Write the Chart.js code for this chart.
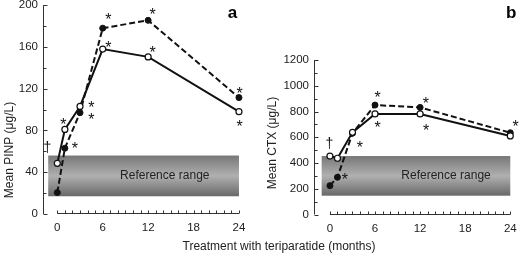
<!DOCTYPE html>
<html>
<head>
<meta charset="utf-8">
<script src="https://cdn.jsdelivr.net/npm/chart.js@4"></script>
<style>
  html, body { margin: 0; padding: 0; background: #fff; }
  #wrap { position: relative; width: 520px; height: 254px; overflow: hidden; }
  .panel { position: absolute; top: 0; width: 260px; height: 254px; }
  #xTitle {
    position: absolute; left: 279px; top: 239px; transform: translateX(-50%);
    font: 12px 'Liberation Sans', Arial, sans-serif; color: #222;
    white-space: nowrap; line-height: 14px;
  }
</style>
</head>
<body>
<div id="wrap">
  <div class="panel" style="left:0"><canvas id="chartA" width="260" height="254"></canvas></div>
  <div class="panel" style="left:260px"><canvas id="chartB" width="260" height="254"></canvas></div>
  <div id="xTitle">Treatment with teriparatide (months)</div>
</div>
<script>
// months of treatment
const months = [0, 1, 3, 6, 12, 24];
const monthTicks = [0, 6, 12, 18, 24];

// panel a - PINP (ug/L)
const pinpOpen = [48.5, 81, 103, 158, 150.5, 98];
const pinpFilled = [20.5, 63, 97, 178, 185.5, 111.5];
const pinpTicks = [0, 40, 80, 120, 160, 200];
const pinpRefRange = [17, 56];

// panel b - CTX (ug/L)
const ctxOpen = [454, 437, 638, 781, 781, 610];
const ctxFilled = [224, 289, 631, 850, 832, 635];
const ctxTicks = [0, 200, 400, 600, 800, 1000, 1200];
const ctxRefRange = [146, 454];

// significance marks next to points (ds 0 = open circles, ds 1 = filled)
const marksA = [
  { ds: 0, i: 0, t: '†', dx: -10, dy: -16 },
  { ds: 0, i: 1, t: '*', dx: -1.5, dy: -8.5 },
  { ds: 1, i: 1, t: '*', dx: 10, dy: -3 },
  { ds: 0, i: 2, t: '*', dx: 11.4, dy: -2 },
  { ds: 1, i: 2, t: '*', dx: 11.4, dy: 3 },
  { ds: 1, i: 3, t: '*', dx: 5.7, dy: -12.3 },
  { ds: 0, i: 3, t: '*', dx: 5.7, dy: -5.3 },
  { ds: 1, i: 4, t: '*', dx: 4.4, dy: -9.3 },
  { ds: 0, i: 4, t: '*', dx: 4.4, dy: -7.4 },
  { ds: 1, i: 5, t: '*', dx: 0.7, dy: -7.3 },
  { ds: 0, i: 5, t: '*', dx: 0.7, dy: 11.3 }
];
const marksB = [
  { ds: 0, i: 0, t: '†', dx: -0.6, dy: -13.3 },
  { ds: 1, i: 1, t: '*', dx: 7.4, dy: -1.6 },
  { ds: 1, i: 2, t: '*', dx: 7.3, dy: 10.7 },
  { ds: 1, i: 3, t: '*', dx: 2.7, dy: -11 },
  { ds: 0, i: 3, t: '*', dx: 2.7, dy: 10 },
  { ds: 1, i: 4, t: '*', dx: 5.7, dy: -7.3 },
  { ds: 0, i: 4, t: '*', dx: 6, dy: 13.3 },
  { ds: 1, i: 5, t: '*', dx: 5.3, dy: -9.4 }
];

const FONT = "'Liberation Sans', Arial, Helvetica, sans-serif";
Chart.defaults.font.family = FONT;
Chart.defaults.color = '#222';

function centeredText(ctx, text, cx, cy) {
  const m = ctx.measureText(text);
  ctx.fillText(text, cx, cy + (m.actualBoundingBoxAscent - m.actualBoundingBoxDescent) / 2);
}

// band, axes, marks and titles
const panelDecor = {
  id: 'panelDecor',
  beforeDatasetsDraw(chart, args, o) {
    const { ctx, chartArea: ca, scales: { x, y } } = chart;
    const x0 = x.getPixelForValue(o.bandFrom);
    const x1 = x.getPixelForValue(24);
    const yTop = y.getPixelForValue(o.range[1]);
    const yBot = y.getPixelForValue(o.range[0]);
    ctx.save();
    const g = ctx.createLinearGradient(0, yTop, 0, yBot);
    g.addColorStop(0, '#777');
    g.addColorStop(0.5, '#b0b0b0');
    g.addColorStop(1, '#686868');
    ctx.fillStyle = g;
    ctx.fillRect(x0, yTop, x1 - x0, yBot - yTop);
    ctx.fillStyle = '#222';
    ctx.font = '12px ' + FONT;
    ctx.textAlign = 'center';
    ctx.textBaseline = 'alphabetic';
    centeredText(ctx, 'Reference range', x.getPixelForValue(o.labelAt), (yTop + yBot) / 2);

    // y axis with inward ticks
    ctx.strokeStyle = '#333';
    ctx.lineWidth = 1;
    const ax = Math.round(ca.left) + 0.5;
    ctx.beginPath();
    ctx.moveTo(ax, ca.top);
    ctx.lineTo(ax, ca.bottom);
    const yMax = o.yTicks[o.yTicks.length - 1];
    for (let v = 0; v <= yMax; v += o.yMinor) {
      const py = Math.round(y.getPixelForValue(v)) + 0.5;
      const len = o.yTicks.includes(v) ? 4 : 3;
      ctx.moveTo(ax, py);
      ctx.lineTo(ax + len, py);
    }
    // x axis from 0 to 24 with monthly ticks
    const by = Math.round(ca.bottom) - 0.5;
    ctx.moveTo(x.getPixelForValue(0), by);
    ctx.lineTo(x.getPixelForValue(24), by);
    for (let m = 0; m <= 24; m++) {
      const px = Math.round(x.getPixelForValue(m)) + 0.5;
      ctx.moveTo(px, by);
      ctx.lineTo(px, by - 3);
    }
    ctx.stroke();
    ctx.restore();
  },
  afterDatasetsDraw(chart, args, o) {
    const { ctx } = chart;
    ctx.save();
    ctx.fillStyle = '#111';
    ctx.textAlign = 'center';
    ctx.textBaseline = 'alphabetic';
    o.marks.forEach(mk => {
      ctx.font = (mk.t === '*' ? '16px ' : '14px ') + FONT;
      const pt = chart.getDatasetMeta(mk.ds).data[mk.i];
      centeredText(ctx, mk.t, pt.x + mk.dx, pt.y + mk.dy);
    });
    // y title
    ctx.fillStyle = '#222';
    ctx.font = '12px ' + FONT;
    ctx.save();
    ctx.translate(o.titlePos[0], o.titlePos[1]);
    ctx.rotate(-Math.PI / 2);
    centeredText(ctx, o.title, 0, 0);
    ctx.restore();
    // panel letter
    ctx.fillStyle = '#000';
    ctx.font = 'bold 17px ' + FONT;
    ctx.fillText(o.letter, o.letterPos[0], o.letterPos[1]);
    ctx.restore();
  }
};

function makeChart(id, open, filled, cfg) {
  const yTicks = cfg.decor.yTicks;
  return new Chart(document.getElementById(id), {
    type: 'line',
    data: {
      datasets: [
        {
          data: months.map((m, i) => ({ x: m, y: open[i] })),
          borderColor: '#111', borderWidth: 2,
          pointRadius: 3, pointBackgroundColor: '#fff',
          pointBorderColor: '#111', pointBorderWidth: 1.2,
          clip: false
        },
        {
          data: months.map((m, i) => ({ x: m, y: filled[i] })),
          borderColor: '#111', borderWidth: 2, borderDash: [6, 3],
          pointRadius: 3, pointBackgroundColor: '#111',
          pointBorderColor: '#111', pointBorderWidth: 1,
          clip: false
        }
      ]
    },
    options: {
      responsive: false,
      animation: false,
      devicePixelRatio: 1,
      layout: { padding: cfg.padding },
      elements: { line: { tension: 0 } },
      plugins: {
        legend: { display: false },
        tooltip: { enabled: false },
        panelDecor: cfg.decor
      },
      scales: {
        x: {
          type: 'linear', min: cfg.xMin, max: 24.6,
          grid: { display: false, drawTicks: false },
          border: { display: false },
          afterBuildTicks: s => { s.ticks = monthTicks.map(v => ({ value: v })); },
          afterFit: s => {
            s.height = cfg.xHeight;
            s.paddingLeft = 0; s.paddingRight = 0;
          },
          ticks: { padding: 7, color: '#222', font: { size: 11.5 }, maxRotation: 0, autoSkip: false,
                   callback: v => String(v) }
        },
        y: {
          min: 0, max: yTicks[yTicks.length - 1],
          grid: { display: false, drawTicks: false },
          border: { display: false },
          afterBuildTicks: s => { s.ticks = yTicks.map(v => ({ value: v })); },
          afterFit: s => {
            s.width = cfg.yWidth;
            s.paddingTop = 0; s.paddingBottom = 0;
          },
          ticks: { padding: 5, color: '#222', font: { size: 11.5 }, autoSkip: false,
                   callback: v => String(v) }
        }
      }
    },
    plugins: [panelDecor]
  });
}

makeChart('chartA', pinpOpen, pinpFilled, {
  padding: { left: 0, top: 5, right: 16.5, bottom: 0 },
  xMin: -1.89, xHeight: 40, yWidth: 43,
  decor: {
    range: pinpRefRange, bandFrom: -1.2, labelAt: 14.2,
    yTicks: pinpTicks, yMinor: 20,
    marks: marksA,
    title: 'Mean PINP (μg/L)', titlePos: [10, 150],
    letter: 'a', letterPos: [232.5, 17.5]
  }
});

makeChart('chartB', ctxOpen, ctxFilled, {
  padding: { left: 0, top: 60, right: 4.5, bottom: 0 },
  xMin: -2.12, xHeight: 39.5, yWidth: 54,
  decor: {
    range: ctxRefRange, bandFrom: -1.1, labelAt: 15.45,
    yTicks: ctxTicks, yMinor: 100,
    marks: marksB,
    title: 'Mean CTX (μg/L)', titlePos: [13, 143],
    letter: 'b', letterPos: [251.3, 17.5]
  }
});
</script>
</body>
</html>
